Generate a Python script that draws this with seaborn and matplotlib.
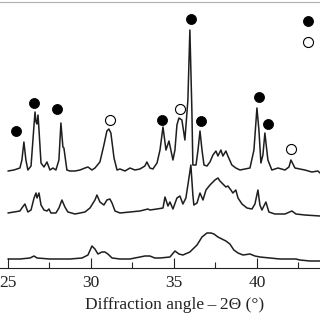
import pandas as pd
import seaborn as sns
import matplotlib.pyplot as plt

# XRD patterns (2-theta in degrees, intensity in arbitrary units)
top_angle = [25.00, 25.36, 25.72, 25.84, 25.96, 26.08, 26.20, 26.39, 26.57, 26.63, 26.69, 26.75, 26.81,
             26.87, 26.99, 27.17, 27.35, 27.53, 27.71, 27.89, 28.07, 28.19, 28.31, 28.37, 28.55, 28.73,
             29.04, 29.34, 29.64, 29.82, 30.06, 30.24, 30.54, 30.78, 30.96, 31.08, 31.20, 31.39, 31.57,
             31.75, 32.05, 32.35, 32.65, 32.95, 33.25, 33.37, 33.55, 33.73, 33.98, 34.16, 34.34, 34.52,
             34.70, 34.94, 35.06, 35.18, 35.30, 35.48, 35.66, 35.84, 35.96, 36.08, 36.14, 36.33, 36.45,
             36.57, 36.69, 36.81, 36.99, 37.17, 37.35, 37.53, 37.65, 37.83, 37.95, 38.13, 38.25, 38.49,
             38.73, 38.98, 39.28, 39.58, 39.82, 40.00, 40.12, 40.24, 40.36, 40.48, 40.66, 40.90, 41.27,
             41.69, 41.93, 42.05, 42.29, 42.59, 42.89, 43.31, 43.67, 43.80]
top_int = [97, 98, 100, 108, 126, 108, 98, 102, 143, 156, 146, 144, 153,
           138, 105, 101, 106, 98, 100, 98, 108, 145, 121, 120, 98, 97,
           97, 98, 100, 101, 98, 100, 106, 123, 137, 139, 135, 110, 98,
           99, 97, 100, 98, 99, 102, 106, 100, 99, 105, 118, 141, 118,
           127, 108, 118, 143, 150, 148, 128, 168, 238, 158, 103, 103, 118,
           137, 118, 103, 102, 106, 113, 117, 112, 118, 112, 117, 112, 103,
           100, 98, 99, 100, 118, 160, 138, 105, 113, 135, 108, 98, 100,
           98, 101, 108, 100, 99, 98, 96, 97, 95]

mid_angle = [25.00, 25.36, 25.72, 25.84, 26.02, 26.20, 26.39, 26.57, 26.69, 26.75, 26.87, 26.99, 27.17,
             27.35, 27.47, 27.59, 27.89, 28.07, 28.25, 28.43, 28.61, 29.04, 29.64, 29.94, 30.24, 30.36,
             30.54, 30.78, 30.96, 31.14, 31.27, 31.45, 31.75, 32.35, 32.95, 33.43, 33.55, 33.98, 34.34,
             34.46, 34.64, 34.76, 34.94, 35.18, 35.36, 35.54, 35.72, 35.84, 36.02, 36.14, 36.20, 36.39,
             36.57, 36.75, 36.93, 37.17, 37.47, 37.65, 37.77, 37.89, 38.13, 38.25, 38.43, 38.55, 38.73,
             38.86, 39.10, 39.40, 39.70, 39.88, 40.06, 40.18, 40.30, 40.54, 40.72, 41.08, 41.69, 42.11,
             42.35, 42.89, 43.80]
mid_int = [55, 56, 57, 60, 64, 56, 58, 70, 75, 70, 75, 63, 58,
           57, 59, 55, 55, 60, 68, 61, 56, 54, 56, 60, 68, 73,
           66, 63, 68, 69, 65, 57, 55, 56, 57, 59, 58, 59, 60,
           71, 62, 66, 59, 70, 72, 64, 70, 83, 103, 73, 63, 65,
           75, 68, 78, 83, 88, 90, 87, 85, 81, 82, 78, 75, 78,
           70, 64, 60, 59, 64, 78, 63, 58, 66, 56, 54, 54, 57,
           54, 53, 52]

bot_angle = [25.00, 25.72, 26.33, 26.57, 26.75, 27.53, 28.73, 29.46, 29.82, 30.06, 30.24, 30.42, 30.66,
             30.84, 31.02, 31.27, 31.75, 32.35, 32.95, 33.25, 33.55, 33.85, 34.16, 34.76, 35.06, 35.30,
             35.54, 35.96, 36.39, 36.69, 36.99, 37.23, 37.41, 37.65, 37.89, 38.13, 38.37, 38.61, 38.86,
             39.16, 39.58, 39.88, 40.18, 40.78, 41.39, 41.99, 42.35, 42.59, 43.19, 43.80]
bot_int = [9, 9, 10, 12, 10, 9, 9, 10, 13, 22, 19, 14, 16,
           16, 14, 10, 9, 9, 11, 12, 12, 10, 10, 11, 17, 14,
           13, 16, 23, 31, 35, 35, 34, 31, 29, 27, 24, 18, 15,
           13, 14, 12, 11, 10, 9, 9, 9, 8, 7, 7]

# phase markers
filled_angle = [25.48, 26.57, 27.95, 34.28, 36.02, 36.63, 40.12, 40.66, 43.07]
filled_int = [137, 165, 159, 148, 249, 147, 171, 144, 247]
open_angle = [31.14, 35.36, 42.05, 43.07]
open_int = [148, 159, 119, 226]

frames = []
for name, a, v in [('top', top_angle, top_int), ('mid', mid_angle, mid_int), ('bot', bot_angle, bot_int)]:
    frames.append(pd.DataFrame({'angle': a, 'intensity': v, 'pattern': name}))
df = pd.concat(frames, ignore_index=True)

sns.set_style('white')
plt.rcParams['font.family'] = ['Liberation Serif', 'DejaVu Serif']

fig = plt.figure(figsize=(3.2, 3.2), dpi=100)
ax = fig.add_axes([0, 0.1625, 1, 0.83125])

sns.lineplot(data=df, x='angle', y='intensity', units='pattern', estimator=None,
             color='#1e1e1e', linewidth=1.1, ax=ax)
sns.scatterplot(x=filled_angle, y=filled_int, color='black', edgecolor='black',
                s=52, ax=ax, clip_on=False, zorder=5)
sns.scatterplot(x=open_angle, y=open_int, color='white', edgecolor='black',
                linewidth=0.8, s=52, ax=ax, clip_on=False, zorder=5)

ax.set_xlim(24.52, 43.80)
ax.set_ylim(0, 266)
ax.set_xticks([25, 30, 35, 40])
ax.set_xticks([27.5, 32.5, 37.5, 42.5], minor=True)
ax.set_yticks([])
ax.tick_params(axis='x', which='major', direction='in', length=7, width=0.8,
               labelsize=12.5, pad=5, colors='#222222', bottom=True)
ax.tick_params(axis='x', which='minor', direction='in', length=4, width=0.8, bottom=True)
for s in ['left', 'right']:
    ax.spines[s].set_visible(False)
ax.spines['bottom'].set_color('#222222')
ax.spines['bottom'].set_linewidth(0.8)
ax.spines['top'].set_color('#b0b0b0')
ax.spines['top'].set_linewidth(0.8)

ax.set_xlabel('Diffraction angle\u2009\u2013\u20092\u0398 (\u00b0)', fontsize=12.5, color='#222222')
ax.xaxis.set_label_coords(0.547, -0.108)
ax.set_ylabel(None)

plt.savefig('out.png', dpi=100)
